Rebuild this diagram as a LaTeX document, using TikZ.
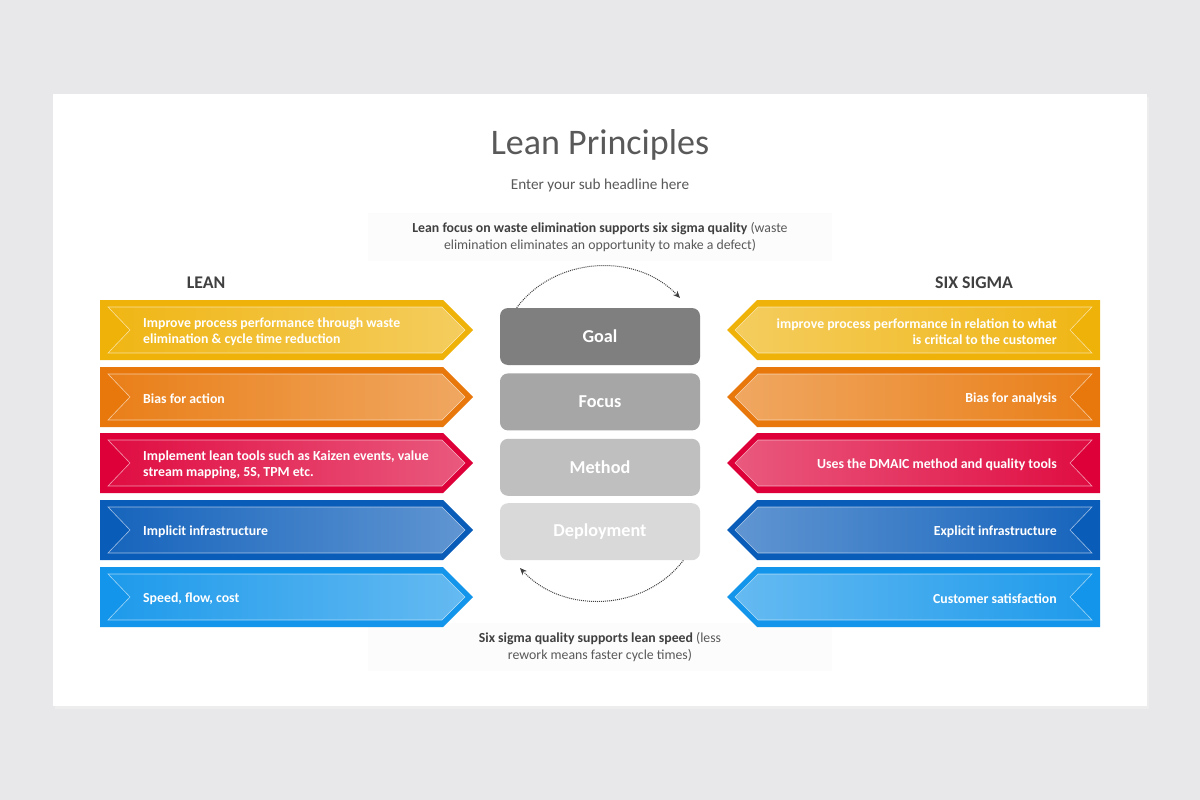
\documentclass[tikz,border=0pt]{standalone}
\usepackage{fontspec}
\setmainfont{Carlito}
\usetikzlibrary{positioning,arrows.meta}
\definecolor{figbg}{HTML}{E8E7E9}
\definecolor{figtext}{HTML}{595959}
\definecolor{figdark}{HTML}{404040}
\definecolor{figyellow}{HTML}{EFB208}
\definecolor{figorange}{HTML}{E8780C}
\definecolor{figred}{HTML}{DE0038}
\definecolor{figdblue}{HTML}{0A5CB9}
\definecolor{figlblue}{HTML}{1295EA}
\definecolor{figgoal}{HTML}{7F7F7F}
\definecolor{figfocus}{HTML}{A6A6A6}
\definecolor{figmethod}{HTML}{BFBFBF}
\definecolor{figdeploy}{HTML}{D9D9D9}
\tikzset{
  rowtext/.style={text=white,font=\fontsize{13.8}{16}\selectfont\bfseries,inner sep=0pt},
  centerbox/.style={rounded corners=8pt,minimum width=200pt,minimum height=57pt,
    text=white,font=\fontsize{18.2}{20}\selectfont\bfseries},
  notetext/.style={align=center,font=\fontsize{13.8}{16.5}\selectfont,text=figtext,
    fill=black!1,minimum width=464pt,minimum height=48pt},
  sidelabel/.style={font=\fontsize{17.8}{20}\selectfont\bfseries,text=figdark},
  cyclearc/.style={densely dotted,draw=figdark,line width=1pt,-{Stealth[length=7pt,width=6pt]}}
}

\begin{document}
\begin{tikzpicture}[x=1pt,y=-1pt]
  \useasboundingbox (0,0) rectangle (1200,800);
  \fill[figbg] (0,0) rectangle (1200,800);
  \fill[black!7] (55,97) rectangle (1149,709);
  \fill[white] (53,94) rectangle (1147,706);

  % heading
  \node[font=\fontsize{36}{40}\selectfont,text=figtext] (title) at (600,145) {Lean Principles};
  \node[font=\fontsize{15.2}{18}\selectfont,text=figtext] (sub) at (600,185) {Enter your sub headline here};

  \node[notetext] (topnote) at (600,237)
    {{\bfseries\color{figdark}Lean focus on waste elimination supports six sigma quality} (waste\\
     elimination eliminates an opportunity to make a defect)};
  \node[notetext] (botnote) at (600,647)
    {{\bfseries\color{figdark}Six sigma quality supports lean speed} (less\\
     rework means faster cycle times)};

  \node[sidelabel] (lean) at (206,283) {LEAN};
  \node[sidelabel] (six) at (974,283) {SIX SIGMA};

  % arrow rows
  \foreach \i/\yc/\col/\ltxt/\rtxt in {
      1/330/figyellow/{Improve process performance through waste\\elimination \& cycle time reduction}/{improve process performance in relation to what\\is critical to the customer},
      2/397/figorange/{Bias for action}/{Bias for analysis},
      3/463/figred/{Implement lean tools such as Kaizen events, value\\stream mapping, 5S, TPM etc.}/{Uses the DMAIC method and quality tools},
      4/530/figdblue/{Implicit infrastructure}/{Explicit infrastructure},
      5/597/figlblue/{Speed, flow, cost}/{Customer satisfaction}} {
    \fill[\col] (100,\yc-30) -- (443,\yc-30) -- (473,\yc) -- (443,\yc+30) -- (100,\yc+30) -- cycle;
    \path[left color=\col!95!white,right color=\col!65!white,draw=white,draw opacity=0.6,line width=0.6pt]
      (108,\yc-23) -- (442,\yc-23) -- (465,\yc) -- (442,\yc+23) -- (108,\yc+23) -- (130,\yc) -- cycle;
    \node[rowtext,anchor=west,align=left] (lean\i) at (143,\yc+1.5) {\ltxt};
    \fill[\col] (1100,\yc-30) -- (757,\yc-30) -- (727,\yc) -- (757,\yc+30) -- (1100,\yc+30) -- cycle;
    \path[left color=\col!65!white,right color=\col!95!white,draw=white,draw opacity=0.6,line width=0.6pt]
      (1092,\yc-23) -- (758,\yc-23) -- (735,\yc) -- (758,\yc+23) -- (1092,\yc+23) -- (1070,\yc) -- cycle;
    \node[rowtext,anchor=east,align=right] (sig\i) at (1057,\yc+1.5) {\rtxt};
  }

  % center column
  \node[centerbox,fill=figgoal] (goal) at (600,336.5) {Goal};
  \node[centerbox,fill=figfocus,below=8pt of goal] (focus) {Focus};
  \node[centerbox,fill=figmethod,below=8pt of focus] (method) {Method};
  \node[centerbox,fill=figdeploy,below=7pt of method] (deploy) {Deployment};

  \coordinate (topend) at (680,298);
  \coordinate (botend) at (520,568);
  \draw[cyclearc] (goal.161) to[bend left=50] (topend);
  \draw[cyclearc] (deploy.341) to[bend left=50] (botend);
\end{tikzpicture}
\end{document}
